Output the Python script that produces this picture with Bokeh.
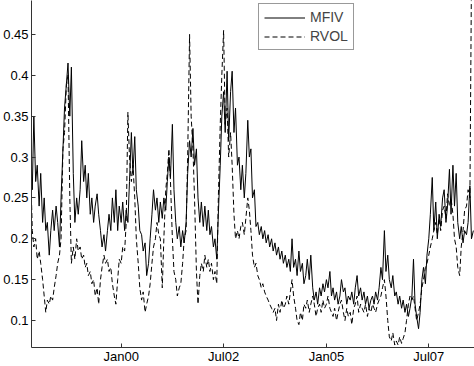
import numpy as np
import pandas as pd
from bokeh.plotting import figure
from bokeh.models import (Range1d, FixedTicker, DatetimeTickFormatter,
                          NumeralTickFormatter, Legend)
from bokeh.embed import file_html
from bokeh.resources import INLINE

start_date = "1997-10-15"

mfiv = [
    0.31, 0.26, 0.35, 0.27,
    0.29, 0.24, 0.28, 0.22, 0.25, 0.21,
    0.22, 0.18, 0.21, 0.235, 0.21, 0.24, 0.22, 0.19,
    0.25, 0.31, 0.36, 0.39, 0.415, 0.35, 0.41,
    0.28, 0.22, 0.25, 0.23, 0.26, 0.32, 0.27,
    0.29, 0.25, 0.28, 0.23, 0.25, 0.22, 0.24, 0.255, 0.23,
    0.21, 0.19, 0.205, 0.185, 0.21,
    0.23, 0.21, 0.25, 0.22, 0.26, 0.21, 0.24,
    0.22, 0.245, 0.21, 0.235, 0.22,
    0.27, 0.33, 0.28, 0.325,
    0.26, 0.24, 0.21,
    0.205, 0.185, 0.195, 0.155, 0.17,
    0.2, 0.23, 0.26, 0.235, 0.25,
    0.22, 0.245, 0.225, 0.25, 0.235, 0.27,
    0.3, 0.275, 0.34,
    0.26, 0.22, 0.2,
    0.215, 0.19, 0.21, 0.195, 0.22,
    0.28, 0.32, 0.3, 0.335,
    0.29, 0.31, 0.25,
    0.22, 0.245, 0.215, 0.24, 0.21, 0.235,
    0.205, 0.215, 0.19, 0.2, 0.175,
    0.23, 0.29, 0.35,
    0.38, 0.33, 0.405,
    0.32, 0.38, 0.405,
    0.33, 0.36, 0.29,
    0.3, 0.26, 0.29, 0.25, 0.28,
    0.345, 0.3,
    0.31, 0.25, 0.26,
    0.215, 0.22,
    0.205, 0.215, 0.2, 0.21, 0.195, 0.205, 0.19, 0.2, 0.185, 0.195,
    0.18, 0.19, 0.175, 0.185, 0.17, 0.18, 0.165, 0.175, 0.16,
    0.2,
    0.165, 0.175, 0.155, 0.185,
    0.16, 0.17, 0.145, 0.155,
    0.175, 0.15, 0.18,
    0.14, 0.125, 0.135, 0.12, 0.14, 0.13, 0.145, 0.135,
    0.15, 0.14, 0.16, 0.13, 0.14,
    0.125, 0.135, 0.12, 0.13,
    0.15, 0.135, 0.14, 0.12, 0.13,
    0.125, 0.135, 0.12, 0.14, 0.155, 0.13, 0.14,
    0.125, 0.135, 0.12, 0.13, 0.115, 0.125, 0.13, 0.12, 0.135, 0.125, 0.14,
    0.165, 0.15, 0.21, 0.16, 0.18,
    0.15, 0.14, 0.155, 0.13,
    0.135, 0.12, 0.13, 0.115, 0.125, 0.11, 0.12,
    0.105, 0.115, 0.13, 0.175,
    0.12, 0.105, 0.09, 0.11,
    0.15, 0.165, 0.145, 0.18,
    0.2, 0.23, 0.275,
    0.21, 0.245, 0.2, 0.23, 0.215, 0.25,
    0.26, 0.22, 0.24, 0.285,
    0.23, 0.29, 0.24, 0.28,
    0.22, 0.2, 0.215, 0.195, 0.21,
    0.205, 0.22, 0.265,
    0.2, 0.21,
]

rvol = [
    0.3, 0.21,
    0.19, 0.2, 0.175, 0.185,
    0.17, 0.15, 0.13, 0.11,
    0.125, 0.12, 0.13, 0.125,
    0.14, 0.155, 0.17, 0.18,
    0.2, 0.31, 0.33, 0.39,
    0.4, 0.25,
    0.17, 0.19, 0.175,
    0.2, 0.185, 0.19, 0.175,
    0.18, 0.165, 0.17, 0.155,
    0.16, 0.145, 0.15, 0.13, 0.14, 0.12,
    0.15, 0.165, 0.18, 0.17, 0.175,
    0.16, 0.165, 0.145, 0.13, 0.12,
    0.15, 0.175, 0.17, 0.19, 0.185,
    0.22, 0.355,
    0.3, 0.27, 0.29, 0.25,
    0.2, 0.17, 0.14,
    0.125, 0.135, 0.11, 0.12, 0.13,
    0.145, 0.17, 0.19, 0.2,
    0.22, 0.205, 0.2, 0.14,
    0.2, 0.26, 0.28,
    0.31, 0.27, 0.2,
    0.16, 0.15, 0.13, 0.14, 0.145,
    0.17, 0.2, 0.21, 0.3,
    0.45, 0.35, 0.31,
    0.25, 0.16, 0.12, 0.155,
    0.17, 0.16, 0.18, 0.165, 0.175,
    0.16, 0.17, 0.15, 0.16, 0.145,
    0.25, 0.34, 0.4,
    0.455, 0.34, 0.36,
    0.3, 0.33, 0.29,
    0.23, 0.2, 0.21,
    0.2, 0.215, 0.22, 0.205, 0.225,
    0.25, 0.235,
    0.21, 0.18, 0.165,
    0.17, 0.155,
    0.15, 0.14, 0.145, 0.135, 0.13,
    0.125, 0.12, 0.115, 0.11, 0.115,
    0.1, 0.12, 0.11, 0.125, 0.115,
    0.12, 0.13, 0.12, 0.135,
    0.15, 0.13, 0.115,
    0.1, 0.095, 0.11, 0.1,
    0.12, 0.115, 0.125, 0.11, 0.12,
    0.13, 0.12, 0.105, 0.115, 0.12, 0.11, 0.125, 0.115,
    0.12, 0.13, 0.115, 0.11, 0.105,
    0.115, 0.1, 0.11, 0.12,
    0.125, 0.11, 0.1, 0.115, 0.105,
    0.11, 0.095, 0.115, 0.12, 0.13, 0.11, 0.12,
    0.115, 0.11, 0.12, 0.105, 0.115, 0.11, 0.12, 0.115, 0.11, 0.12, 0.125,
    0.13, 0.14, 0.15, 0.13, 0.1,
    0.08, 0.075, 0.085, 0.07,
    0.075, 0.07, 0.08, 0.072, 0.078, 0.085, 0.1,
    0.12, 0.13, 0.125, 0.13,
    0.115, 0.1, 0.11, 0.12,
    0.14, 0.15, 0.165, 0.17,
    0.18, 0.19, 0.2,
    0.21, 0.22, 0.205, 0.225, 0.21, 0.235,
    0.24, 0.225, 0.255, 0.24,
    0.25, 0.23, 0.2, 0.19,
    0.165, 0.155, 0.19, 0.21, 0.235,
    0.24, 0.26, 0.25,
    0.52, np.nan,
]

series_names = ["MFIV", "RVOL"]
x_tick_dates = ["2000-01-01", "2002-07-01", "2005-01-01", "2007-07-01"]
x_tick_labels = ["Jan00", "Jul02", "Jan05", "Jul07"]
y_ticks = [0.1, 0.15, 0.2, 0.25, 0.3, 0.35, 0.4, 0.45]
x_limits = ["1997-10-25", "2008-08-11"]
y_limits = [0.067, 0.4915]

assert len(mfiv) == len(rvol)
dates = pd.date_range(start_date, periods=len(mfiv), freq="SMS")

# ---------------- figure ----------------
FONT = "Liberation Sans"
p = figure(width=474, height=366, x_axis_type="datetime",
           output_backend="svg", toolbar_location=None,
           x_range=Range1d(pd.Timestamp(x_limits[0]), pd.Timestamp(x_limits[1])),
           y_range=Range1d(*y_limits),
           min_border_left=0, min_border_right=0,
           min_border_top=0, min_border_bottom=0)
p.outline_line_color = None
p.grid.visible = False
p.background_fill_color = "white"
p.border_fill_color = "white"

r1 = p.line(dates, mfiv, line_color="black", line_width=1)
r2 = p.line(dates, rvol, line_color="black", line_width=1, line_dash="5 3")

# axes
tick_ms = [pd.Timestamp(d).timestamp() * 1000 for d in x_tick_dates]
p.xaxis.ticker = FixedTicker(ticks=tick_ms)
p.xaxis.formatter = DatetimeTickFormatter(years="%b%y", months="%b%y", days="%b%y",
                                          hours="%b%y", minutes="%b%y")
p.xaxis.major_label_overrides = {t: l for t, l in zip(tick_ms, x_tick_labels)}
p.yaxis.ticker = FixedTicker(ticks=y_ticks)
p.yaxis.formatter = NumeralTickFormatter(format="0.[00]")

for ax in (p.xaxis, p.yaxis):
    ax.axis_line_color = "#333333"
    ax.axis_line_width = 1
    ax.major_tick_line_color = "#333333"
    ax.major_tick_in = 4
    ax.major_tick_out = 0
    ax.minor_tick_line_color = None
    ax.major_label_text_font = FONT
    ax.major_label_text_font_size = "13px"
    ax.major_label_text_color = "#000000"
    ax.major_label_text_line_height = 1.0
p.xaxis.major_label_standoff = 1
p.yaxis.major_label_standoff = 3

legend = Legend(items=[(series_names[0], [r1]), (series_names[1], [r2])],
                location=(227, 297))
legend.border_line_color = "#333333"
legend.border_line_width = 1
legend.background_fill_color = "white"
legend.background_fill_alpha = 1
legend.label_text_font = FONT
legend.label_text_font_size = "14px"
legend.glyph_width = 41
legend.glyph_height = 15
legend.label_height = 15
legend.label_standoff = 5
legend.spacing = 3
legend.padding = 5
legend.margin = 0
p.add_layout(legend)

open("out.html", "w").write(file_html(p, INLINE))
